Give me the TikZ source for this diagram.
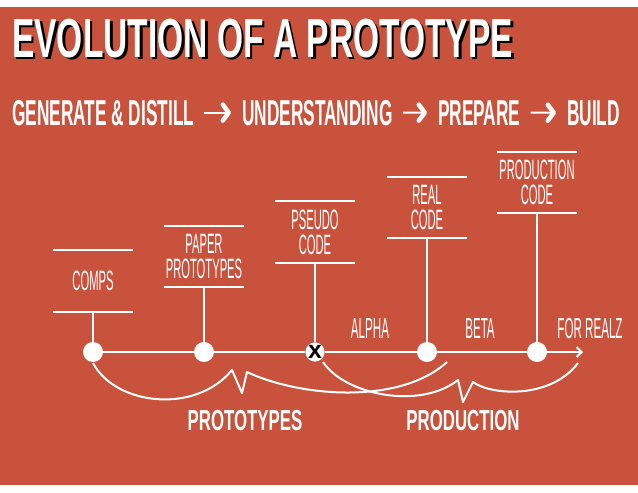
\documentclass[tikz,border=0pt]{standalone}
\usepackage{fontspec}
\usepackage{tikz}
\usetikzlibrary{arrows.meta}
\setmainfont{Liberation Sans}
\newfontfamily\titlefont[FakeStretch=0.61]{Liberation Sans Bold}
\newfontfamily\headfont[FakeStretch=0.48]{Liberation Sans Bold}
\newfontfamily\labelfont[FakeStretch=0.58]{Liberation Sans Bold}
\newfontfamily\handfont[FakeStretch=0.4]{Liberation Sans}
\definecolor{slidebg}{HTML}{C9523C}
\tikzset{
 titletext/.style = {anchor=base west, inner sep=0, font=\titlefont\fontsize{55}{60}\selectfont},
 headtext/.style = {anchor=base west, inner sep=0, text=white, font=\headfont\fontsize{36}{40}\selectfont},
 flowarrow/.style = {draw=white, line width=2pt, shorten <=10pt, shorten >=11pt,
   arrows={-Straight Barb[length=6pt, width=16pt, line width=4.5pt, round]}},
 stage/.style = {minimum width=80pt, minimum height=61pt, inner sep=0, align=center, text=white, font=\handfont\fontsize{28}{25}\selectfont},
 handtext/.style = {anchor=base, inner sep=0, text=white, font=\handfont\fontsize{29}{25}\selectfont},
 grouptext/.style = {anchor=base, inner sep=0, text=white, font=\labelfont\fontsize{29}{30}\selectfont},
 bar/.style = {white, line width=2pt, line join=round},
 dot/.style = {circle, fill=white, minimum size=20pt, inner sep=0},
 xdot/.style = {circle, fill=white, minimum size=19pt, inner sep=0, font=\bfseries\fontsize{25}{25}\selectfont}
}

\begin{document}
\begin{tikzpicture}[x=1pt, y=-1pt]
    \useasboundingbox (0,0) rectangle (638,493);
    \fill[white] (0,0) rectangle (638,493);
    \fill[slidebg] (0,7) rectangle (638,485);

    \node[titletext, text=black] (titleshade) at (14.5,59.5) {EVOLUTION OF A PROTOTYPE};
    \node[titletext, text=white] (title) at (12,57) {EVOLUTION OF A PROTOTYPE};

    \node[headtext] (gen) at (12,125) {GENERATE \& DISTILL};
    \node[headtext] (und) at (242,125) {UNDERSTANDING};
    \node[headtext] (prep) at (438,125) {PREPARE};
    \node[headtext] (build) at (567,125) {BUILD};
    \draw[flowarrow] (gen.east) -- (und.west);
    \draw[flowarrow] (und.east) -- (prep.west);
    \draw[flowarrow] (prep.east) -- (build.west);

    \foreach \n/\x/\y/\t in {comps/93/281/COMPS, paper/204/256.5/{PAPER\\PROTOTYPES},
        pseudo/315/232/{PSEUDO\\CODE}, real/427/207.5/{REAL\\CODE}, prodcode/537/182.5/{PRODUCTION\\CODE}}{
        \node[stage] (\n) at (\x,\y) {\t};
        \draw[bar] (\n.north west) -- (\n.north east);
        \draw[bar] (\n.south west) -- (\n.south east);
    }

    \node[dot] (d1) at (93,352) {};
    \node[dot] (d2) at (204,352) {};
    \node[xdot] (dx) at (315,352) {x};
    \node[dot] (d4) at (427,352) {};
    \node[dot] (d5) at (537,352) {};
    \coordinate (tlend) at (583,352);
    \draw[bar] (d1) -- (d2) -- (dx) -- (d4) -- (d5);
    \draw[bar, -{Straight Barb[length=5pt, width=10pt]}] (d5) -- (tlend);
    \foreach \d/\s in {d1/comps, d2/paper, dx/pseudo, d4/real, d5/prodcode}
        \draw[bar] (\d) -- (\s.south);

    \node[handtext] (alpha) at (370,338) {ALPHA};
    \node[handtext] (beta) at (480,338) {BETA};
    \node[handtext] (realz) at (590,338) {FOR REALZ};

    \draw[bar] (93,363) .. controls (115,405) and (195,415) .. (232,370) -- (242,393) -- (247,372)
        .. controls (300,397) and (400,405) .. (447,362);
    \draw[bar] (323,362) .. controls (345,395) and (420,410) .. (458,380) -- (463,402) -- (473,382)
        .. controls (490,395) and (550,400) .. (578,363);
    \node[grouptext] (protos) at (245,430) {PROTOTYPES};
    \node[grouptext] (prods) at (463,430) {PRODUCTION};
\end{tikzpicture}
\end{document}
